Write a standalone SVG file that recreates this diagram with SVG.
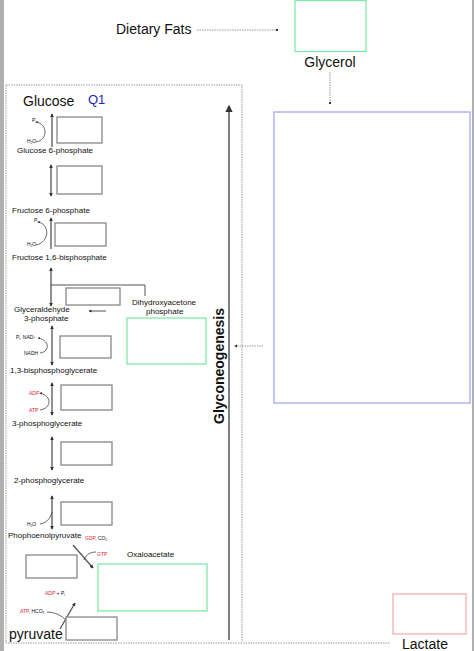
<svg xmlns="http://www.w3.org/2000/svg" width="474" height="651" viewBox="0 0 474 651">
<style>
text{font-family:"Liberation Sans",Arial,sans-serif;fill:#111}
.big{font-size:14px}
.lbl{font-size:8px}
.sm{font-size:5px}
.red{fill:#e8202a}
.box{fill:#fff;stroke:#888;stroke-width:1.3}
.dot{fill:none;stroke:#999;stroke-width:1;stroke-dasharray:1.5 1}
.rx{fill:none;stroke:#555;stroke-width:1.3}
.cv{fill:none;stroke:#444;stroke-width:0.8}
</style>
<defs>
<marker id="ah" viewBox="0 0 6 6" refX="5" refY="3" markerWidth="5" markerHeight="5" orient="auto-start-reverse"><path d="M0,0 L6,3 L0,6 z" fill="#333"/></marker>
<marker id="sh" viewBox="0 0 6 6" refX="5" refY="3" markerWidth="3" markerHeight="3" orient="auto-start-reverse"><path d="M0,0 L6,3 L0,6 z" fill="#333"/></marker>
</defs>
<rect width="474" height="651" fill="#fff"/>
<rect x="0" y="0" width="4" height="651" fill="#b0b0b0"/>
<rect x="472" y="0" width="2" height="651" fill="#b0b0b0"/>

<g id="connectors">
<line class="dot" x1="197" y1="30" x2="277" y2="30"/>
<rect x="276" y="29" width="2" height="2" fill="#333"/>
<line class="dot" x1="330" y1="72" x2="330" y2="104"/>
<rect x="329" y="102" width="2" height="2" fill="#333"/>
<line class="dot" x1="237" y1="346" x2="263" y2="346"/>
<path d="M234,346 l3,-1.5 v3z" fill="#333"/>
<path class="dot" d="M6,85 H242 V642"/>
<path class="dot" d="M6,85 V643 H390"/>
<line x1="229" y1="640" x2="229" y2="106" stroke="#555" stroke-width="1.5" marker-end="url(#ah)"/>
<!-- step arrows -->
<line class="rx" x1="52" y1="147" x2="52" y2="114" marker-end="url(#sh)"/>
<line class="rx" x1="51" y1="196" x2="51" y2="165" marker-start="url(#sh)" marker-end="url(#sh)"/>
<line class="rx" x1="51" y1="249" x2="51" y2="218" marker-end="url(#sh)"/>
<line class="rx" x1="51" y1="306" x2="51" y2="268" marker-start="url(#sh)" marker-end="url(#sh)"/>
<path d="M51,285 H145 V296" fill="none" stroke="#555" stroke-width="1"/>
<line x1="89" y1="311" x2="106" y2="311" stroke="#555" stroke-width="1" marker-start="url(#sh)"/>
<line class="rx" x1="52" y1="365" x2="52" y2="326" marker-start="url(#sh)" marker-end="url(#sh)"/>
<line class="rx" x1="52" y1="415" x2="52" y2="383" marker-start="url(#sh)" marker-end="url(#sh)"/>
<line class="rx" x1="52" y1="470" x2="52" y2="437" marker-start="url(#sh)" marker-end="url(#sh)"/>
<line class="rx" x1="52" y1="529" x2="52" y2="496" marker-start="url(#sh)" marker-end="url(#sh)"/>
<line class="rx" x1="73" y1="545" x2="93" y2="568" marker-end="url(#sh)"/>
<line class="rx" x1="60" y1="629" x2="75" y2="603" marker-end="url(#sh)"/>
<!-- curved side arrows -->
<path class="cv" d="M36,122 C48,124 48,140 36,142" marker-start="url(#sh)"/>
<path class="cv" d="M38,222 C50,224 50,242 36,245" marker-start="url(#sh)"/>
<path class="cv" d="M38,338 C50,340 50,352 40,353" marker-start="url(#sh)"/>
<path class="cv" d="M40,393 C52,396 52,408 40,410" marker-start="url(#sh)"/>
<path class="cv" d="M40,524 C48,523 51,516 52,512"/>
<path class="cv" d="M96,552 C89,552 85,556 84,560"/>
<path class="cv" d="M47,612 C55,612 62,616 66,620"/>
</g>

<g id="n-dietary"><text class="big" x="116" y="34">Dietary Fats</text></g>
<g id="n-glycerol"><rect x="295" y="0.5" width="71" height="51" fill="#fff" stroke="#80e8a8" stroke-width="1.3"/><text class="big" x="330" y="67" text-anchor="middle">Glycerol</text></g>
<g id="n-bigbox"><rect x="274" y="112" width="196" height="291" fill="#fff" stroke="#a0a0f0" stroke-width="1.2"/></g>
<g id="n-lactate"><rect x="393" y="594" width="73" height="40" fill="#fff" stroke="#f0a8a8" stroke-width="1.2"/><text class="big" x="402" y="649">Lactate</text></g>
<g id="n-gluconeo"><text transform="translate(224,366) rotate(-90)" text-anchor="middle" style="font-size:14px;font-weight:bold">Glyconeogenesis</text></g>

<g id="n-glucose"><text class="big" x="23" y="106">Glucose</text><text x="88" y="104" style="font-size:13px;fill:#2222cc">Q1</text></g>
<g id="n-g6p"><text class="sm" x="32" y="122">P<tspan font-size="3" dy="1">i</tspan></text><text class="sm" x="27" y="143">H<tspan font-size="3" dy="1">2</tspan><tspan dy="-1">O</tspan></text><rect class="box" x="57" y="117" width="45" height="26"/><text class="lbl" x="17" y="153">Glucose 6-phosphate</text></g>
<g id="n-f6p"><rect class="box" x="57" y="166" width="45" height="28"/><text class="lbl" x="12" y="213">Fructose 6-phosphate</text></g>
<g id="n-f16bp"><text class="sm" x="34" y="222">P<tspan font-size="3" dy="1">i</tspan></text><text class="sm" x="27" y="246">H<tspan font-size="3" dy="1">2</tspan><tspan dy="-1">O</tspan></text><rect class="box" x="55" y="223" width="51" height="23"/><text class="lbl" x="12" y="260">Fructose 1,6-bisphosphate</text></g>
<g id="n-aldolase"><rect class="box" x="66" y="288" width="54" height="17"/></g>
<g id="n-gap"><text class="lbl" x="14" y="312">Glyceraldehyde</text><text class="lbl" x="24" y="321">3-phosphate</text></g>
<g id="n-dhap"><text class="lbl" x="132" y="305">Dihydroxyacetone</text><text class="lbl" x="146" y="314">phosphate</text><rect x="127" y="318" width="79" height="46" fill="#fff" stroke="#80e8a8" stroke-width="1.3"/></g>
<g id="n-13bpg"><text class="sm" x="16" y="339">P<tspan font-size="3" dy="1">i</tspan><tspan dy="-1">, NAD</tspan><tspan font-size="3" dy="-1.5">+</tspan></text><text class="sm" x="24" y="355">NADH</text><rect class="box" x="60" y="336" width="51" height="22"/><text class="lbl" x="10" y="373">1,3-bisphosphoglycerate</text></g>
<g id="n-3pg"><text class="sm red" x="29" y="395">ADP</text><text class="sm red" x="29" y="412">ATP</text><rect class="box" x="61" y="385" width="51" height="25"/><text class="lbl" x="12" y="426">3-phosphoglycerate</text></g>
<g id="n-2pg"><rect class="box" x="61" y="442" width="51" height="23"/><text class="lbl" x="14" y="483">2-phosphoglycerate</text></g>
<g id="n-pep"><text class="sm" x="27" y="526">H<tspan font-size="3" dy="1">2</tspan><tspan dy="-1">O</tspan></text><rect class="box" x="61" y="502" width="51" height="23"/><text class="lbl" x="8" y="538">Phophoenolpyruvate</text><text class="sm" x="85" y="540"><tspan class="red">GDP</tspan>, CO<tspan font-size="3" dy="1">2</tspan></text></g>
<g id="n-pepck"><rect class="box" x="26" y="555" width="51" height="23"/><text class="sm red" x="97" y="556">GTP</text></g>
<g id="n-oaa"><text class="lbl" x="127" y="557">Oxaloacetate</text><rect x="98" y="564" width="109" height="47" fill="#fff" stroke="#80e8a8" stroke-width="1.3"/></g>
<g id="n-pyruvate"><text class="sm" x="45" y="595"><tspan class="red">ADP</tspan> + P<tspan font-size="3" dy="1">i</tspan></text><text class="sm" x="20" y="613"><tspan class="red">ATP</tspan>, HCO<tspan font-size="3" dy="1">3</tspan></text><rect class="box" x="66" y="617" width="51" height="23"/><text class="big" x="9" y="639">pyruvate</text></g>
</svg>
